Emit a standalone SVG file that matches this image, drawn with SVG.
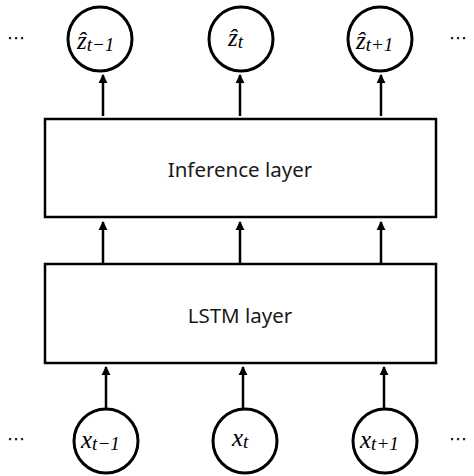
<svg xmlns="http://www.w3.org/2000/svg" width="474" height="476" viewBox="0 0 474 476">
<style>
.node{fill:#fff;stroke:#000;stroke-width:3}
.box{fill:#fff;stroke:#000;stroke-width:2.5}
.lbl{font-family:"Noto Sans","DejaVu Sans",sans-serif;font-size:20.5px;fill:#1a1a1a;text-anchor:middle}
.m{font-family:"Liberation Serif","DejaVu Serif",serif;font-style:italic;font-size:25px;fill:#000}
.s{font-size:19px}
.dots{font-family:"DejaVu Sans",sans-serif;font-size:18px;fill:#000;text-anchor:middle}
.c{stroke:#000;stroke-width:2.5;fill:none;marker-end:url(#ah)}
</style>
<defs>
<marker id="ah" viewBox="0 0 10 10" refX="9" refY="5" markerWidth="3.6" markerHeight="4" orient="auto" markerUnits="strokeWidth">
<path d="M0,0 L10,5 L0,10 z" fill="#000"/>
</marker>
</defs>
<rect width="474" height="476" fill="#fff"/>
<g id="connectors">
<line class="c" x1="103" y1="116" x2="103" y2="75"/>
<line class="c" x1="240" y1="116" x2="240" y2="75"/>
<line class="c" x1="381" y1="116" x2="381" y2="75"/>
<line class="c" x1="103" y1="263" x2="103" y2="222"/>
<line class="c" x1="240" y1="263" x2="240" y2="222"/>
<line class="c" x1="381" y1="263" x2="381" y2="222"/>
<line class="c" x1="106" y1="408" x2="106" y2="367"/>
<line class="c" x1="243" y1="408" x2="243" y2="367"/>
<line class="c" x1="384" y1="408" x2="384" y2="367"/>
</g>
<g id="inference">
<rect class="box" x="45" y="119" width="391" height="98"/>
<text class="lbl" x="240" y="177">Inference layer</text>
</g>
<g id="lstm">
<rect class="box" x="45" y="264" width="391" height="99"/>
<text class="lbl" x="240" y="323">LSTM layer</text>
</g>
<g id="z1">
<circle class="node" cx="100" cy="39" r="32"/>
<text class="m" x="77" y="49">ẑ<tspan class="s" dy="2">t−1</tspan></text>
</g>
<g id="z2">
<circle class="node" cx="241" cy="39" r="32"/>
<text class="m" x="228" y="46">ẑ<tspan class="s" dy="2">t</tspan></text>
</g>
<g id="z3">
<circle class="node" cx="380" cy="39" r="32"/>
<text class="m" x="356" y="49">ẑ<tspan class="s" dy="2">t+1</tspan></text>
</g>
<g id="x1">
<circle class="node" cx="106" cy="441" r="32"/>
<text class="m" x="81" y="448">x<tspan class="s" dy="2">t−1</tspan></text>
</g>
<g id="x2">
<circle class="node" cx="245" cy="441" r="32"/>
<text class="m" x="232" y="446">x<tspan class="s" dy="2">t</tspan></text>
</g>
<g id="x3">
<circle class="node" cx="385" cy="441" r="32"/>
<text class="m" x="360" y="448">x<tspan class="s" dy="2">t+1</tspan></text>
</g>
<g id="dots">
<text class="dots" x="16" y="44">⋯</text>
<text class="dots" x="458" y="44">⋯</text>
<text class="dots" x="16" y="445">⋯</text>
<text class="dots" x="458" y="445">⋯</text>
</g>
</svg>
